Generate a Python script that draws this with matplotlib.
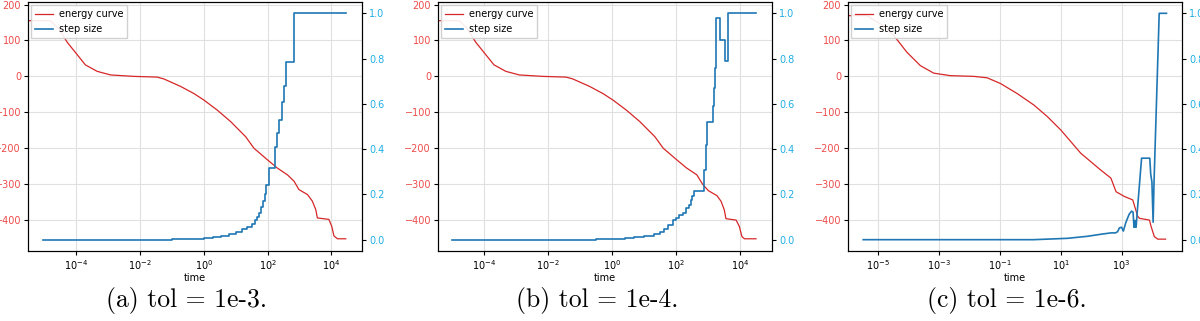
import numpy as np
import matplotlib.pyplot as plt
from matplotlib.ticker import NullLocator

# log10(time) and energy
logt_energy_a = [-6.0, -4.82, -4.55, -4.29, -4.0, -3.72, -3.35, -2.93, -2.2, -1.47, -1.26,
                 -0.73, -0.31, 0.0, 0.42, 0.84, 1.31, 1.57, 1.99, 2.30, 2.62, 2.83, 2.98,
                 3.25, 3.40, 3.51, 3.56, 3.92, 4.01, 4.08, 4.19, 4.45]
energy_a = [155, 155, 132, 95, 63, 32, 14, 4, 0, -2, -7, -28, -48, -66, -94, -126, -168,
            -200, -232, -255, -274, -292, -315, -329, -347, -371, -394, -398, -417, -444,
            -452, -452]

logt_energy_b = [-6.0, -4.78, -4.53, -4.27, -3.98, -3.70, -3.33, -2.91, -2.18, -1.45, -1.24,
                 -0.71, -0.29, 0.02, 0.44, 0.86, 1.33, 1.59, 2.01, 2.32, 2.64, 2.82, 3.0,
                 3.27, 3.40, 3.50, 3.55, 3.87, 3.97, 4.05, 4.13, 4.49]
energy_b = [155, 155, 132, 95, 63, 32, 14, 4, 0, -2, -7, -28, -48, -66, -94, -126, -168,
            -200, -232, -255, -274, -300, -318, -332, -348, -372, -396, -400, -418, -446,
            -452, -452]

logt_energy_c = [-6.5, -5.39, -4.83, -4.45, -4.06, -3.62, -3.18, -2.63, -1.86, -1.42, -0.98,
                 -0.43, 0.12, 0.56, 1.0, 1.66, 2.32, 2.65, 2.82, 3.09, 3.37, 3.53, 3.59,
                 3.92, 3.97, 4.08, 4.19, 4.45]
energy_c = [169, 169, 141, 109, 67, 30, 9, 2, 0, -4, -20, -48, -80, -112, -149, -214, -261,
            -283, -321, -334, -344, -389, -395, -400, -417, -446, -453, -453]

# log10(time) and step size
logt_step_a = [-5.05, -1.7, -1.0, -0.5, 0.0, 0.3, 0.55, 0.8, 1.0, 1.2, 1.35, 1.5, 1.6, 1.68,
               1.74, 1.8, 1.86, 1.92, 1.96, 2.03, 2.24, 2.29, 2.37, 2.44, 2.50, 2.57, 2.84, 4.47]
step_a = [0.0, 0.0, 0.001, 0.003, 0.006, 0.010, 0.016, 0.024, 0.033, 0.045, 0.056, 0.07,
          0.085, 0.10, 0.12, 0.145, 0.17, 0.2, 0.24, 0.318, 0.41, 0.47, 0.53, 0.607, 0.68,
          0.784, 1.0, 1.0]

logt_step_b = [-5.0, -1.4, -0.5, 0.05, 0.4, 0.68, 1.0, 1.3, 1.5, 1.62, 1.75, 1.88, 1.98,
               2.09, 2.2, 2.3, 2.38, 2.45, 2.5, 2.56, 2.84, 2.88, 2.92, 2.97, 3.13, 3.16,
               3.19, 3.21, 3.23, 3.25, 3.33, 3.35, 3.52, 3.60, 3.62, 4.49]
step_b = [0.0, 0.0, 0.001, 0.004, 0.008, 0.012, 0.018, 0.026, 0.036, 0.049, 0.066, 0.085,
          0.096, 0.107, 0.12, 0.14, 0.155, 0.175, 0.195, 0.215, 0.215, 0.31, 0.42, 0.52,
          0.52, 0.59, 0.67, 0.76, 0.86, 0.98, 0.98, 0.88, 0.79, 0.79, 1.0, 1.0]

logt_step_c = [-5.5, 0.1, 1.22, 1.88, 2.32, 2.65, 2.80, 2.87, 2.93, 3.0, 3.06, 3.14, 3.25,
               3.33, 3.38, 3.41, 3.44, 3.46, 3.48, 3.51, 3.66, 3.93, 3.96, 4.0, 4.04, 4.07,
               4.24, 4.48]
step_c = [0.0, 0.0, 0.006, 0.015, 0.024, 0.03, 0.03, 0.035, 0.052, 0.055, 0.038, 0.075,
          0.112, 0.126, 0.122, 0.055, 0.085, 0.055, 0.055, 0.11, 0.36, 0.36, 0.29, 0.255,
          0.077, 0.255, 1.0, 1.0]

xticks_ab = [1e-4, 1e-2, 1e0, 1e2, 1e4]
xticks_c = [1e-5, 1e-3, 1e-1, 1e1, 1e3]
captions = ["(a) tol = 1e-3.", "(b) tol = 1e-4.", "(c) tol = 1e-6."]

panels = [
    (logt_energy_a, energy_a, logt_step_a, step_a, 'steps-post', xticks_ab, (-5.52, 4.96)),
    (logt_energy_b, energy_b, logt_step_b, step_b, 'steps-post', xticks_ab, (-5.45, 4.99)),
    (logt_energy_c, energy_c, logt_step_c, step_c, 'default', xticks_c, (-6.0, 4.99)),
]

red = '#d62728'
blue = '#1f77b4'
red_lbl = '#ee4b4b'
blue_lbl = '#20aee6'

fig = plt.figure(figsize=(12, 3.21), dpi=100)
lefts = [28, 438, 848]

for i, (lte, en, lts, st, ds, xt, xl) in enumerate(panels):
    ax1 = fig.add_axes([lefts[i] / 1200, 1 - 251 / 321, 334 / 1200, 249 / 321])
    ax2 = ax1.twinx()

    l1, = ax1.plot(10 ** np.array(lte), en, color=red, lw=0.9, label='energy curve')
    l2, = ax2.plot(10 ** np.array(lts), st, color=blue, lw=1.2, drawstyle=ds,
                   label='step size')

    ax1.set_xscale('log')
    ax1.set_xlim(10 ** xl[0], 10 ** xl[1])
    ax1.set_xticks(xt)
    ax1.xaxis.set_minor_locator(NullLocator())
    ax1.set_ylim(-486, 207)
    ax1.set_yticks([-400, -300, -200, -100, 0, 100, 200])
    ax2.set_ylim(-0.05, 1.05)
    ax2.set_yticks([0.0, 0.2, 0.4, 0.6, 0.8, 1.0])

    ax1.grid(True, color='#e0e0e0', lw=0.8)
    ax1.tick_params(axis='y', labelcolor=red_lbl, labelsize=7, length=3, pad=2)
    ax1.tick_params(axis='x', labelsize=7, length=3, pad=2)
    ax2.tick_params(axis='y', labelcolor=blue_lbl, labelsize=7, length=3, pad=2)
    ax1.set_xlabel('time', fontsize=7, labelpad=1)

    ax2.legend([l1, l2], ['energy curve', 'step size'], loc='upper left', fontsize=7,
               borderaxespad=0.35, handlelength=1.8, handletextpad=0.6,
               framealpha=0.9, fancybox=False, edgecolor='#cccccc')

    cx = (lefts[i] + 334 / 2 - 8) / 1200
    fig.text(cx, 1 - 300 / 321, captions[i], ha='center', va='center',
             fontsize=18.5, family='cmr10')

plt.savefig('out.png', dpi=100)
